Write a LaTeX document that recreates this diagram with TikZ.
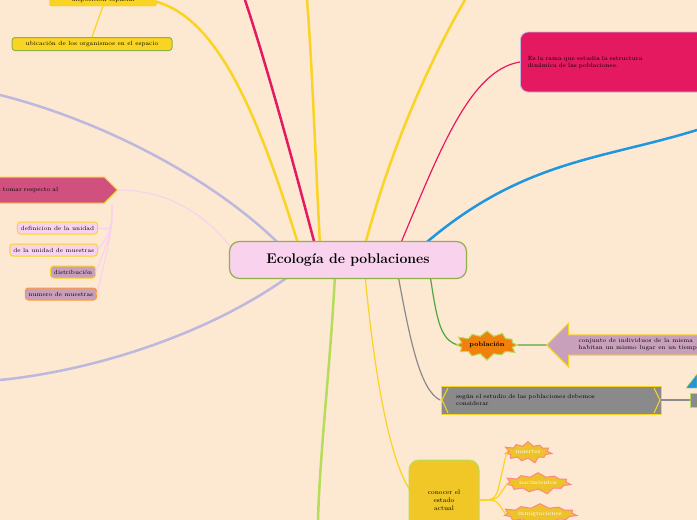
\documentclass[tikz,border=0pt]{standalone}
\usetikzlibrary{shapes.geometric,shapes.symbols,shapes.arrows}
\definecolor{bg}{HTML}{FDE8D2}
\definecolor{yel}{HTML}{F9D423}
\definecolor{crim}{HTML}{E5195F}
\definecolor{lav}{HTML}{BDB8DE}
\definecolor{pinkl}{HTML}{F9D3EE}
\definecolor{blu}{HTML}{1E96E0}
\definecolor{grn}{HTML}{4DA83C}
\definecolor{lgrn}{HTML}{B5DD5A}
\definecolor{gry}{HTML}{8A8A8A}
\definecolor{mauve}{HTML}{C9A0BC}
\definecolor{rose}{HTML}{D0507E}
\tikzset{br/.style={line width=2.5pt,line cap=round},
 thin/.style={line width=1.2pt,line cap=round},
 ybox/.style={draw=yel,line width=1pt,rounded corners=3pt,fill=pinkl,font=\fontsize{6}{7}\selectfont,anchor=east,minimum height=12pt},
 burst/.style={starburst,starburst points=11,starburst point height=6pt,fill=yel!80!brown,draw=pink!70!red,line width=1pt,font=\fontsize{6}{7}\selectfont,text=white,inner sep=1pt,minimum height=24pt}}
\begin{document}
\begin{tikzpicture}[x=1pt,y=-1pt]
\fill[bg] (0,0) rectangle (697,520);
\useasboundingbox (0,0) rectangle (697,520);
% branches
\draw[br,yel] (300,250) .. controls (260,120) and (220,20) .. (157,2);
\draw[br,crim] (315,245) .. controls (290,150) and (265,60) .. (245,0);
\draw[br,yel] (320,245) .. controls (315,150) and (312,60) .. (307,0);
\draw[br,yel] (365,245) .. controls (390,150) and (430,60) .. (465,0);
\draw[thin,crim] (400,245) .. controls (440,150) and (470,70) .. (520,62);
\draw[br,blu] (420,248) .. controls (520,160) and (600,160) .. (697,130);
\draw[br,lav] (290,255) .. controls (220,180) and (100,120) .. (0,95);
\draw[thin,pinkl] (240,260) .. controls (200,200) and (150,190) .. (118,190);
\draw[br,lav] (300,268) .. controls (220,330) and (100,370) .. (0,380);
\draw[br,lgrn] (335,275) .. controls (330,370) and (320,450) .. (318,520);
\draw[thin,grn] (430,275) .. controls (437,320) and (440,340) .. (458,345);
\draw[thin,gry] (398,275) .. controls (410,340) and (420,390) .. (440,400);
\draw[thin,yel] (365,275) .. controls (375,380) and (390,460) .. (410,490);
% top-left
\node[fill=yel,draw=yel!80!orange,rounded corners=2pt,minimum width=107pt,minimum height=12pt,font=\fontsize{6}{7}\selectfont] (disp) at (103,0) {disposición espacial};
\node[fill=yel,draw=lgrn!80!black,line width=1pt,rounded corners=3pt,minimum width=160pt,minimum height=13pt,font=\fontsize{6}{7}\selectfont] (ubic) at (92,44) {ubicación de los organismos en el espacio};
\draw[thin,yel] (disp.south) -- (ubic.north);
% red box
\node[fill=crim,draw=lav,line width=.8pt,rounded corners=8pt,minimum width=185pt,minimum height=60pt,text width=170pt,anchor=west,font=\fontsize{6}{7}\selectfont,align=left] (rama) at (520,62) {Es la rama que estudia la estructura\\dinámica de las poblaciones.};
% left pink box
\node[signal,signal to=east,fill=rose,draw=yel,line width=1pt,minimum width=130pt,minimum height=26pt,anchor=east,font=\fontsize{6}{7}\selectfont,text width=115pt] (deben) at (118,190) {\hspace*{-4pt}deben tomar respecto al};
\node[ybox] (d1) at (98,228) {definicion de la unidad};
\node[ybox] (d2) at (98,250) {de la unidad de muestras};
\node[ybox,fill=mauve] (d3) at (96,272) {distribución};
\node[ybox,fill=mauve,draw=orange!80] (d4) at (97,294) {numero de muestras};
\foreach \n in {d1,d2,d3,d4} \draw[thin,pinkl] (112,205) .. controls (112,230) .. (\n.east);
% center
\node[draw=lgrn!80!black,line width=1.2pt,fill=pinkl,rounded corners=10pt,minimum width=237pt,minimum height=37pt,font=\fontsize{14}{16}\selectfont\bfseries] (c) at (348,260) {Ecología de poblaciones};
% población
\node[starburst,starburst points=12,starburst point height=7pt,fill=orange!80!brown,draw=lgrn,line width=1pt,minimum width=64pt,minimum height=32pt,font=\fontsize{6.5}{7}\selectfont\bfseries,inner sep=1pt] (pob) at (487,345) {población};
\node[single arrow,shape border rotate=180,single arrow head extend=12pt,fill=mauve,draw=yel,line width=1pt,minimum height=170pt,minimum width=30pt,anchor=tip,font=\fontsize{6}{7}\selectfont,align=left] (conj) at (546,345) {\quad conjunto de individuos de la misma\\\quad habitan un mismo lugar en un tiempo};
\draw[thin,grn] (pob) -- (conj.tip);
% según
\node[fill=gry,draw=yel,line width=1pt,minimum width=220pt,minimum height=28pt,text width=190pt,font=\fontsize{6}{7}\selectfont,align=left] (seg) at (551,400) {según el estudio de las poblaciones debemos\\considerar};
\draw[yel,line width=1pt] (448,388) -- (442,400) -- (448,413) (654,388) -- (660,400) -- (654,413);
\fill[blu,draw=yel] (686,388) -- (697,374) -- (697,388) -- cycle;
\node[fill=gry,draw=lgrn,anchor=west,minimum height=14pt,minimum width=20pt] (e) at (690,400) {};
\draw[thin,gry] (seg.east) -- (e.west);
% conocer
\node[fill=yel!85!brown,draw=lgrn,line width=1pt,minimum width=70pt,minimum height=80pt,rounded corners=10pt,font=\fontsize{6.5}{8}\selectfont,align=center] (con) at (444,500) {conocer el\\estado\\actual};
\node[burst,minimum width=48pt] (m1) at (528,452) {muertes};
\node[burst,minimum width=66pt] (m2) at (538,483) {nacimientos};
\node[burst,minimum width=68pt] (m3) at (540,514) {inmigraciones};
\foreach \n in {m1,m2,m3} \draw[thin,yel] (con.east) .. controls (500,500) and (495,500) .. (\n.west);
\end{tikzpicture}
\end{document}
